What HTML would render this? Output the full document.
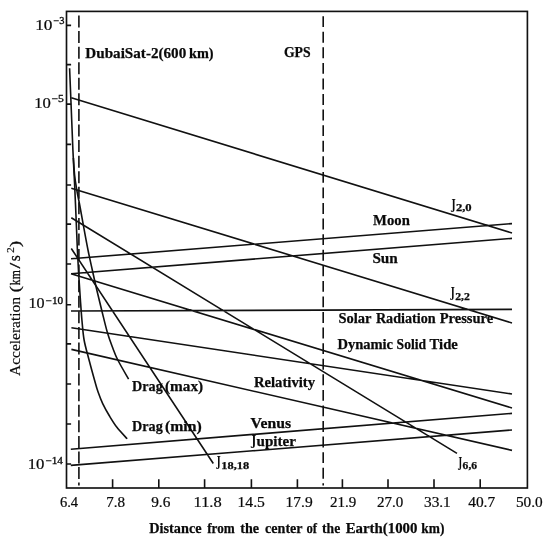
<!DOCTYPE html>
<html lang="en"><head><meta charset="utf-8"><title>Perturbation accelerations</title>
<style>html,body{margin:0;padding:0;background:#fff;}svg{display:block;}text{font-family:"Liberation Serif",serif;fill:#0a0a0a;}.b{font-weight:bold;stroke:#0a0a0a;stroke-width:0.25px;}</style></head><body>
<svg width="550" height="550" viewBox="0 0 550 550">
<rect width="550" height="550" fill="#fff"/>
<g fill="none" stroke="#111" stroke-width="1.6">
<rect x="66.5" y="11.4" width="460.9" height="476.6" stroke-width="1.65"/>
<path d="M66.5 25.4h4.6M66.5 64.6h4.6M66.5 104.1h4.6M66.5 144.4h4.6M66.5 185.0h4.6M66.5 224.1h4.6M66.5 264.0h4.6M66.5 304.8h4.6M66.5 343.9h4.6M66.5 384.0h4.6M66.5 424.0h4.6M66.5 464.0h4.6"/>
<path d="M112.6 488.0v-8.8M158.8 488.0v-8.8M204.6 488.0v-8.8M251.4 488.0v-8.8M297.4 488.0v-8.8M342.4 488.0v-8.8M388.0 488.0v-8.8M434.0 488.0v-8.8M480.2 488.0v-8.8"/>
<path d="M78.9 15.5V485.6" stroke-dasharray="12 3.57"/>
<path d="M323.2 16.2V485.4" stroke-dasharray="10.9 4.67"/>
<path d="M71.3 97.7L512.0 233.0M71.3 188.2L512.0 323.0M71.3 217.7L457.0 453.4M71.3 248.5L213.3 463.5M71.0 258.8L512.0 223.6M71.0 273.7L512.0 238.4M71.0 273.7L512.0 408.0M71.0 311.0L512.0 309.4M71.4 327.8L512.0 394.0M71.4 349.4L512.0 450.4M70.8 449.2L512.0 413.4M70.8 465.4L512.0 430.0"/>
<path d="M69.60 68.20 C69.88 75.17 70.75 96.37 71.30 110.00 C71.85 123.63 72.37 138.00 72.90 150.00 C73.43 162.00 73.98 171.00 74.50 182.00 C75.02 193.00 75.52 204.67 76.00 216.00 C76.48 227.33 76.93 240.00 77.40 250.00 C77.87 260.00 78.30 267.67 78.80 276.00 C79.30 284.33 79.87 292.50 80.40 300.00 C80.93 307.50 81.38 314.33 82.00 321.00 C82.62 327.67 83.00 333.80 84.10 340.00 C85.20 346.20 86.87 351.53 88.60 358.20 C90.33 364.87 92.93 374.40 94.50 380.00 C96.07 385.60 96.63 387.87 98.00 391.80 C99.37 395.73 100.83 399.65 102.70 403.60 C104.57 407.55 106.83 411.55 109.20 415.50 C111.57 419.45 113.90 423.42 116.90 427.30 C119.90 431.18 125.48 436.88 127.20 438.80"/>
<path d="M73.40 158.00 C73.60 160.83 74.07 169.83 74.60 175.00 C75.13 180.17 75.77 184.08 76.60 189.00 C77.43 193.92 78.55 198.88 79.60 204.50 C80.65 210.12 81.50 215.12 82.90 222.70 C84.30 230.28 86.43 242.12 88.00 250.00 C89.57 257.88 90.83 263.33 92.30 270.00 C93.77 276.67 95.20 283.17 96.80 290.00 C98.40 296.83 100.10 303.78 101.90 311.00 C103.70 318.22 105.82 327.22 107.60 333.30 C109.38 339.38 110.90 343.05 112.60 347.50 C114.30 351.95 115.13 354.73 117.80 360.00 C120.47 365.27 126.80 375.92 128.60 379.10"/>
</g>
<text x="35.21" y="29.5" font-size="14.5" textLength="17.29" lengthAdjust="spacingAndGlyphs" stroke="#0a0a0a" stroke-width="0.22">10</text>
<text x="53.30" y="24.1" font-size="9.5" textLength="11.12" lengthAdjust="spacingAndGlyphs" stroke="#0a0a0a" stroke-width="0.3">−3</text>
<text x="34.15" y="107.9" font-size="14.5" textLength="16.63" lengthAdjust="spacingAndGlyphs" stroke="#0a0a0a" stroke-width="0.22">10</text>
<text x="51.60" y="102.1" font-size="9.5" textLength="12.30" lengthAdjust="spacingAndGlyphs" stroke="#0a0a0a" stroke-width="0.3">−5</text>
<text x="28.59" y="308.3" font-size="14.5" textLength="16.09" lengthAdjust="spacingAndGlyphs" stroke="#0a0a0a" stroke-width="0.22">10</text>
<text x="45.60" y="303.5" font-size="9.5" textLength="17.60" lengthAdjust="spacingAndGlyphs" stroke="#0a0a0a" stroke-width="0.3">−10</text>
<text x="27.65" y="468.6" font-size="14.5" textLength="16.74" lengthAdjust="spacingAndGlyphs" stroke="#0a0a0a" stroke-width="0.22">10</text>
<text x="45.40" y="463.5" font-size="9.5" textLength="17.51" lengthAdjust="spacingAndGlyphs" stroke="#0a0a0a" stroke-width="0.3">−14</text>
<text x="59.90" y="506.5" font-size="14.5" textLength="18.15" lengthAdjust="spacingAndGlyphs" stroke="#0a0a0a" stroke-width="0.22">6.4</text>
<text x="106.30" y="506.5" font-size="14.5" textLength="18.86" lengthAdjust="spacingAndGlyphs" stroke="#0a0a0a" stroke-width="0.22">7.8</text>
<text x="151.20" y="506.5" font-size="14.5" textLength="19.16" lengthAdjust="spacingAndGlyphs" stroke="#0a0a0a" stroke-width="0.22">9.6</text>
<text x="193.57" y="506.5" font-size="14.5" textLength="28.11" lengthAdjust="spacingAndGlyphs" stroke="#0a0a0a" stroke-width="0.22">11.8</text>
<text x="237.52" y="506.5" font-size="14.5" textLength="27.35" lengthAdjust="spacingAndGlyphs" stroke="#0a0a0a" stroke-width="0.22">14.5</text>
<text x="285.53" y="506.5" font-size="14.5" textLength="27.14" lengthAdjust="spacingAndGlyphs" stroke="#0a0a0a" stroke-width="0.22">17.9</text>
<text x="330.10" y="506.5" font-size="14.5" textLength="26.26" lengthAdjust="spacingAndGlyphs" stroke="#0a0a0a" stroke-width="0.22">21.9</text>
<text x="376.90" y="506.5" font-size="14.5" textLength="26.26" lengthAdjust="spacingAndGlyphs" stroke="#0a0a0a" stroke-width="0.22">27.0</text>
<text x="424.00" y="506.5" font-size="14.5" textLength="26.76" lengthAdjust="spacingAndGlyphs" stroke="#0a0a0a" stroke-width="0.22">33.1</text>
<text x="468.20" y="506.5" font-size="14.5" textLength="26.97" lengthAdjust="spacingAndGlyphs" stroke="#0a0a0a" stroke-width="0.22">40.7</text>
<text x="515.90" y="506.5" font-size="14.5" textLength="26.76" lengthAdjust="spacingAndGlyphs" stroke="#0a0a0a" stroke-width="0.22">50.0</text>
<text y="57.8" class="b" font-size="15.5"><tspan x="85.30" textLength="100.96" lengthAdjust="spacingAndGlyphs">DubaiSat-2(600</tspan> <tspan x="189.00" textLength="24.55" lengthAdjust="spacingAndGlyphs">km)</tspan></text>
<text x="283.90" y="57.4" class="b" font-size="15.5" textLength="26.65" lengthAdjust="spacingAndGlyphs">GPS</text>
<text x="373.10" y="224.5" class="b" font-size="15.5" textLength="36.74" lengthAdjust="spacingAndGlyphs">Moon</text>
<text x="372.40" y="262.8" class="b" font-size="15.5" textLength="25.43" lengthAdjust="spacingAndGlyphs">Sun</text>
<text y="323.3" class="b" font-size="15.5"><tspan x="338.50" textLength="32.79" lengthAdjust="spacingAndGlyphs">Solar</tspan> <tspan x="375.90" textLength="59.75" lengthAdjust="spacingAndGlyphs">Radiation</tspan> <tspan x="439.70" textLength="53.49" lengthAdjust="spacingAndGlyphs">Pressure</tspan></text>
<text y="349.1" class="b" font-size="15.5"><tspan x="337.40" textLength="55.69" lengthAdjust="spacingAndGlyphs">Dynamic</tspan> <tspan x="396.60" textLength="29.47" lengthAdjust="spacingAndGlyphs">Solid</tspan> <tspan x="429.60" textLength="28.29" lengthAdjust="spacingAndGlyphs">Tide</tspan></text>
<text x="253.90" y="386.6" class="b" font-size="15.5" textLength="61.16" lengthAdjust="spacingAndGlyphs">Relativity</text>
<text y="391.0" class="b" font-size="15.5"><tspan x="132.00" textLength="30.77" lengthAdjust="spacingAndGlyphs">Drag</tspan> <tspan x="165.00" textLength="38.16" lengthAdjust="spacingAndGlyphs">(max)</tspan></text>
<text y="430.7" class="b" font-size="15.5"><tspan x="132.00" textLength="30.77" lengthAdjust="spacingAndGlyphs">Drag</tspan> <tspan x="165.00" textLength="36.76" lengthAdjust="spacingAndGlyphs">(min)</tspan></text>
<text x="250.60" y="427.7" class="b" font-size="15.5" textLength="40.43" lengthAdjust="spacingAndGlyphs">Venus</text>
<text x="251.47" y="445.29" font-size="12.90" font-weight="bold" style="font-family:'DejaVu Serif Condensed','DejaVu Serif','Liberation Serif',serif" textLength="4.71" lengthAdjust="spacingAndGlyphs">J</text>
<text x="256.50" y="445.6" class="b" font-size="15.5" textLength="39.38" lengthAdjust="spacingAndGlyphs">upiter</text>
<text y="533.2" class="b" font-size="15.5"><tspan x="149.30" textLength="52.29" lengthAdjust="spacingAndGlyphs">Distance</tspan> <tspan x="207.20" textLength="27.52" lengthAdjust="spacingAndGlyphs">from</tspan> <tspan x="240.30" textLength="18.79" lengthAdjust="spacingAndGlyphs">the</tspan> <tspan x="265.10" textLength="37.19" lengthAdjust="spacingAndGlyphs">center</tspan> <tspan x="306.50" textLength="10.61" lengthAdjust="spacingAndGlyphs">of</tspan> <tspan x="322.00" textLength="18.19" lengthAdjust="spacingAndGlyphs">the</tspan> <tspan x="345.70" textLength="71.76" lengthAdjust="spacingAndGlyphs">Earth(1000</tspan> <tspan x="421.30" textLength="23.04" lengthAdjust="spacingAndGlyphs">km)</tspan></text>
<text x="451.59" y="208.51" font-size="13.76" font-weight="bold" style="font-family:'DejaVu Serif Condensed','DejaVu Serif','Liberation Serif',serif" textLength="4.17" lengthAdjust="spacingAndGlyphs">J</text>
<text x="455.90" y="211.4" class="b" font-size="10.5" textLength="15.80" lengthAdjust="spacingAndGlyphs">2,0</text>
<text x="450.86" y="296.91" font-size="13.76" font-weight="bold" style="font-family:'DejaVu Serif Condensed','DejaVu Serif','Liberation Serif',serif" textLength="3.99" lengthAdjust="spacingAndGlyphs">J</text>
<text x="455.20" y="299.8" class="b" font-size="10.5" textLength="14.68" lengthAdjust="spacingAndGlyphs">2,2</text>
<text x="458.60" y="466.51" font-size="13.76" font-weight="bold" style="font-family:'DejaVu Serif Condensed','DejaVu Serif','Liberation Serif',serif" textLength="3.62" lengthAdjust="spacingAndGlyphs">J</text>
<text x="462.60" y="469.4" class="b" font-size="10.5" textLength="14.48" lengthAdjust="spacingAndGlyphs">6,6</text>
<text x="216.84" y="465.61" font-size="13.76" font-weight="bold" style="font-family:'DejaVu Serif Condensed','DejaVu Serif','Liberation Serif',serif" textLength="3.90" lengthAdjust="spacingAndGlyphs">J</text>
<text x="221.30" y="468.5" class="b" font-size="10.5" textLength="27.90" lengthAdjust="spacingAndGlyphs">18,18</text>
<g transform="translate(20.2 376) rotate(-90)">
<text x="0.00" y="0" font-size="15" textLength="79.08" lengthAdjust="spacingAndGlyphs" stroke="#0a0a0a" stroke-width="0.15">Acceleration</text>
<text x="83.70" y="0" font-size="15" textLength="6.19" lengthAdjust="spacingAndGlyphs" stroke="#0a0a0a" stroke-width="0.3">(</text>
<text x="90.80" y="0" font-size="15" textLength="14.94" lengthAdjust="spacingAndGlyphs" stroke="#0a0a0a" stroke-width="0.3">km</text>
<text x="107.50" y="0" font-size="15" textLength="5.67" lengthAdjust="spacingAndGlyphs" stroke="#0a0a0a" stroke-width="0.3">/</text>
<text x="114.80" y="0" font-size="16" textLength="6.02" lengthAdjust="spacingAndGlyphs" stroke="#0a0a0a" stroke-width="0.3">s</text>
<text x="123.00" y="-6.2" font-size="10.5" textLength="5.78" lengthAdjust="spacingAndGlyphs" stroke="#0a0a0a" stroke-width="0.15">2</text>
<text x="129.00" y="0" font-size="15" textLength="5.99" lengthAdjust="spacingAndGlyphs" stroke="#0a0a0a" stroke-width="0.3">)</text>
</g>
</svg></body></html>
